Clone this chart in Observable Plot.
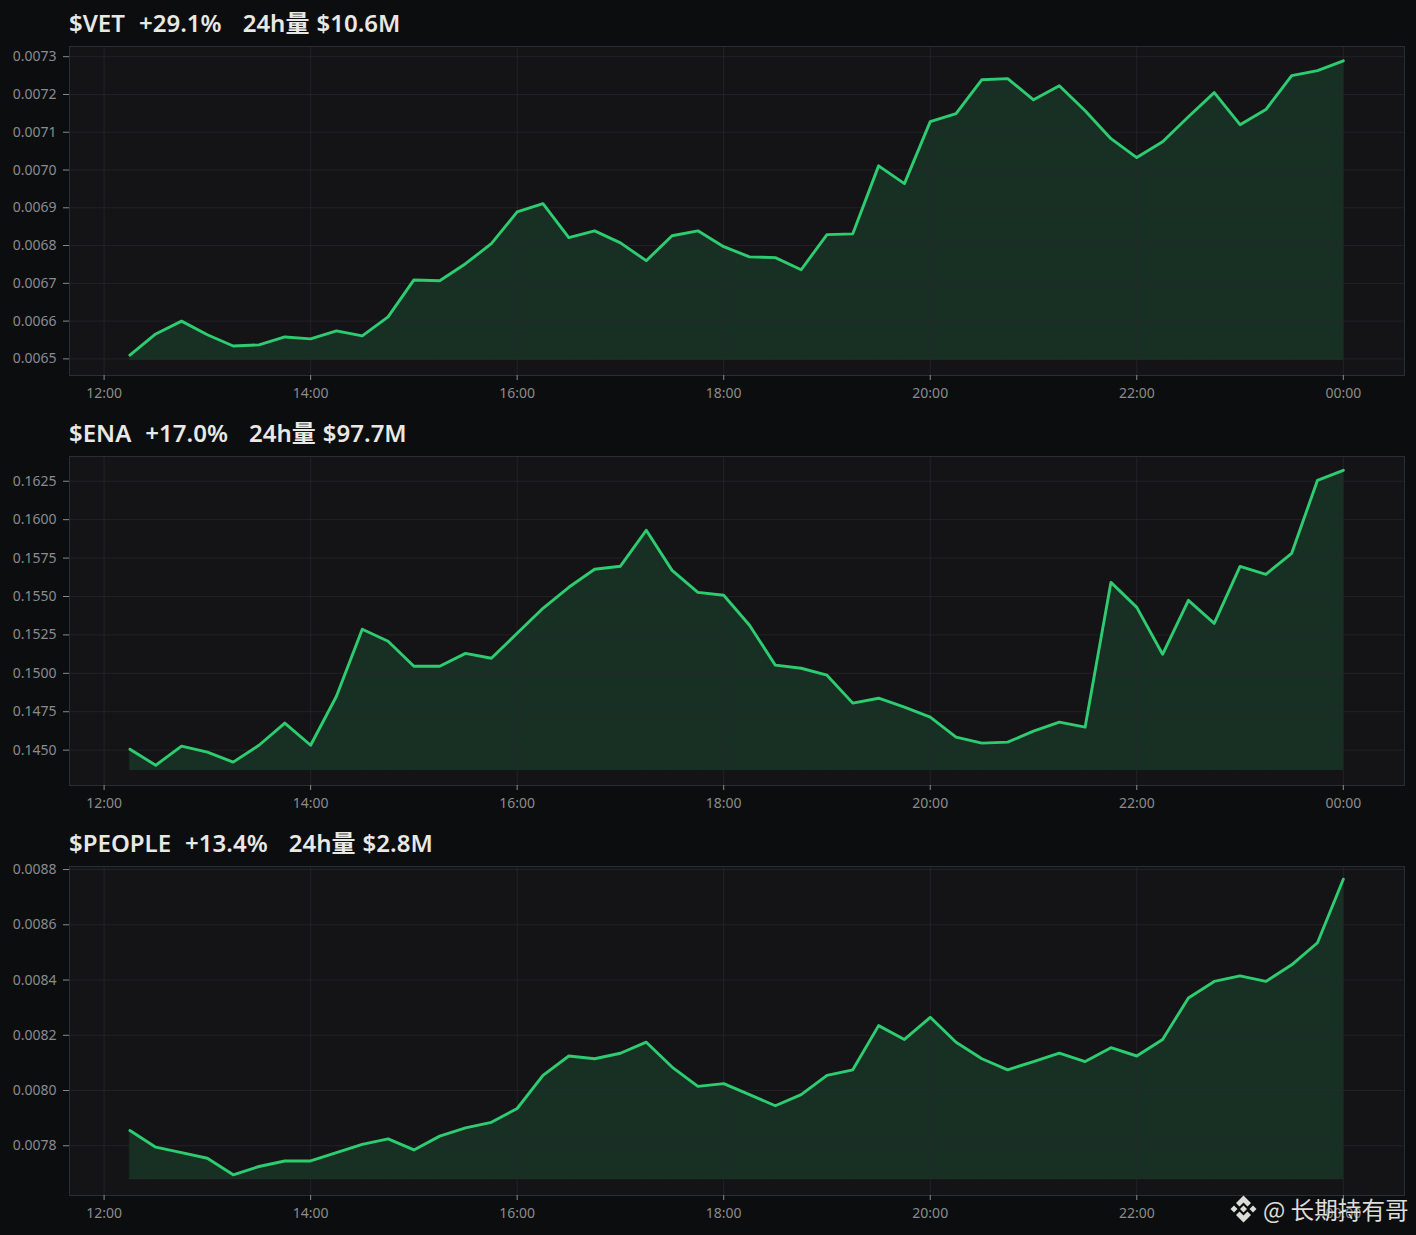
<!DOCTYPE html>
<html><head><meta charset="utf-8">
<script src="https://cdn.jsdelivr.net/npm/d3@7"></script>
<script src="https://cdn.jsdelivr.net/npm/@observablehq/plot@0.6"></script>
<style>
html,body{margin:0;padding:0;background:#0c0d0f;width:1416px;height:1235px;overflow:hidden;position:relative}
.title{height:46px;box-sizing:border-box;padding:6px 0 0 69px;font:600 24px/34px "Noto Sans","Noto Sans CJK SC",sans-serif;word-spacing:.8px;color:#e8e8e4;white-space:pre}
.block{height:410px}
svg.plot{display:block;margin-top:-11px;position:relative}
#wm{position:absolute;left:1230px;top:1193px;height:32px;display:flex;align-items:center;font:23.6px/32px "Noto Sans CJK SC",sans-serif;color:#dcdcd8;white-space:pre}
#wm svg{margin-right:6px}
</style></head><body>
<div id="root"></div>
<div id="wm"><svg width="27" height="28" viewBox="0 0 27 28"><g fill="#dcdcd8"><path d="M13.5 0.5 L21 8 L17.5 11.5 L13.5 7.5 L9.5 11.5 L6 8Z"/><path d="M13.5 27.5 L21 20 L17.5 16.5 L13.5 20.5 L9.5 16.5 L6 20Z"/><path d="M4 10.5 L7.5 14 L4 17.5 L0.5 14Z"/><path d="M23 10.5 L26.5 14 L23 17.5 L19.5 14Z"/><path d="M13.5 10.5 L17 14 L13.5 17.5 L10 14Z"/></g></svg>@ 长期持有哥</div>
<script>
const hours = [12.25,12.5,12.75,13,13.25,13.5,13.75,14,14.25,14.5,14.75,15,15.25,15.5,15.75,16,16.25,16.5,16.75,17,17.25,17.5,17.75,18,18.25,18.5,18.75,19,19.25,19.5,19.75,20,20.25,20.5,20.75,21,21.25,21.5,21.75,22,22.25,22.5,22.75,23,23.25,23.5,23.75,24];
const xTicks = [12,14,16,18,20,22,24];

const vetPrices = [.00651,.006566,.0066,.006564,.006534,.006537,.006558,.006553,.006574,.006561,.006611,.006709,.006707,.006752,.006805,.006889,.006911,.006821,.006839,.006807,.00676,.006826,.006839,.006797,.00677,.006768,.006736,.006829,.006831,.007011,.006964,.007128,.007149,.007239,.007242,.007186,.007223,.007157,.007083,.007033,.007075,.007141,.007205,.00712,.00716,.00725,.007263,.007289];
const vetTicks = [.0065,.0066,.0067,.0068,.0069,.007,.0071,.0072,.0073];
const vetDomain = [.006456,.007327];
const vetBase = .006497;

const enaPrices = [.14506,.14402,.14526,.14487,.14422,.14532,.14676,.14532,.14851,.15287,.15209,.15046,.15046,.1513,.15098,.15261,.15423,.1556,.15677,.15697,.15931,.1567,.15527,.15508,.15313,.15053,.15033,.14988,.14806,.14838,.1478,.14715,.14585,.14546,.14552,.14624,.14682,.1465,.15592,.15429,.15124,.15475,.15325,.15696,.15644,.15781,.16256,.16321];
const enaTicks = [.145,.1475,.15,.1525,.155,.1575,.16,.1625];
const enaDomain = [.1427,.16411];
const enaBase = .1437;

const peoplePrices = [.007855,.007795,.007775,.007755,.007695,.007725,.007745,.007745,.007775,.007805,.007825,.007785,.007835,.007865,.007885,.007935,.008055,.008125,.008115,.008135,.008175,.008085,.008015,.008025,.007985,.007945,.007985,.008055,.008075,.008235,.008185,.008265,.008175,.008115,.008075,.008105,.008135,.008105,.008155,.008125,.008185,.008335,.008395,.008415,.008395,.008455,.008535,.008765];
const peopleTicks = [.0078,.008,.0082,.0084,.0086,.0088];
const peopleDomain = [.00762,.008811];
const peopleBase = .007678;

const titles = ["$VET  +29.1%   24h量 $10.6M","$ENA  +17.0%   24h量 $97.7M","$PEOPLE  +13.4%   24h量 $2.8M"];

const root = document.getElementById("root");
function panel(title, prices, ticks, domain, base){
  const data = hours.map((h,i)=>({h, p:prices[i]}));
  const block = document.createElement("div"); block.className="block";
  const t = document.createElement("div"); t.className="title"; t.textContent=title; block.appendChild(t);
  const chart = Plot.plot({
    width:1416, height:375, marginLeft:69, marginRight:12, marginTop:11, marginBottom:35,
    className:"plot",
    style:{background:"transparent",fontFamily:"'Noto Sans',sans-serif",fontSize:"14px",color:"#8b8b8b"},
    x:{domain:[11.665,24.5925],label:null},
    y:{domain,label:null},
    marks:[
      Plot.frame({fill:"#141416",stroke:"none"}),
      Plot.areaY(data,{x:"h",y1:()=>base,y2:"p",fill:"#2ecc71",fillOpacity:0.15,stroke:"#2ecc71",strokeOpacity:0.06,strokeWidth:1}),
      Plot.ruleX(xTicks,{stroke:"#2a2b2e",strokeOpacity:0.65,strokeWidth:1}),
      Plot.ruleY(ticks,{stroke:"#2a2b2e",strokeOpacity:0.65,strokeWidth:1}),
      Plot.lineY(data,{x:"h",y:"p",stroke:"#2ecc71",strokeWidth:2.9,strokeLinejoin:"round",curve:"linear"}),
      Plot.frame({stroke:"#2c2d30",strokeWidth:1}),
      Plot.axisX({ticks:xTicks,tickSize:5,tickPadding:8,stroke:"#8b8b8b",tickFormat:h=>String(h%24).padStart(2,"0")+":00",fill:"#8b8b8b"}),
      Plot.axisY({ticks,tickSize:6,tickPadding:7,stroke:"#8b8b8b",tickFormat:d3.format(".4f"),fill:"#8b8b8b"})
    ]
  });
  block.appendChild(chart);
  root.appendChild(block);
}
panel(titles[0],vetPrices,vetTicks,vetDomain,vetBase);
panel(titles[1],enaPrices,enaTicks,enaDomain,enaBase);
panel(titles[2],peoplePrices,peopleTicks,peopleDomain,peopleBase);
</script>
</body></html>
